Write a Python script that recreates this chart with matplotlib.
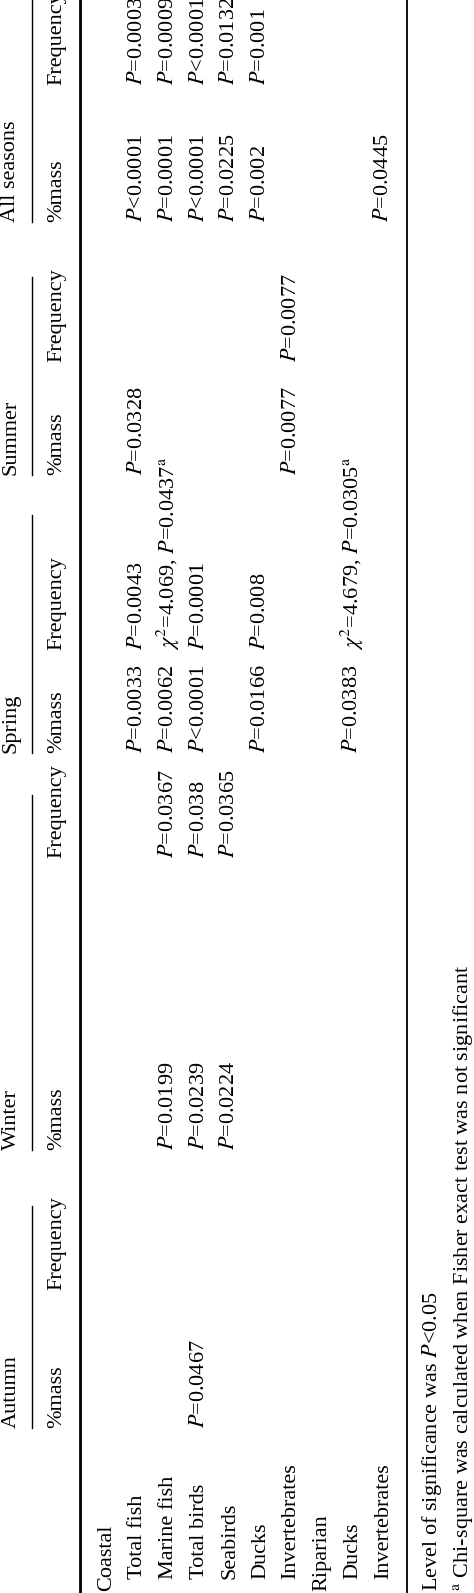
import matplotlib.pyplot as plt
from matplotlib.lines import Line2D

plt.rcParams['font.family'] = ['Liberation Serif', 'DejaVu Serif']
plt.rcParams['mathtext.fontset'] = 'stix'

# table content
seasons = ['Autumn', 'Winter', 'Spring', 'Summer', 'All seasons']
sub_headers = ['%mass', 'Frequency']
row_labels = ['Coastal', 'Total fish', 'Marine fish', 'Total birds', 'Seabirds',
              'Ducks', 'Invertebrates', 'Riparian', 'Ducks', 'Invertebrates']
row_indent = [0, 1, 1, 1, 1, 1, 1, 0, 1, 1]

CHI1 = r'$\chi^2$=4.069, $P$=0.0437$^{\rm a}$'
CHI2 = r'$\chi^2$=4.679, $P$=0.0305$^{\rm a}$'
# one list per row, 10 cells: (autumn mass, freq, winter mass, freq, ... all mass, freq)
cells = [
    [''] * 10,
    ['', '', '', '', '=0.0033', '=0.0043', '=0.0328', '', '<0.0001', '=0.0003'],
    ['', '', '=0.0199', '=0.0367', '=0.0062', CHI1, '', '', '=0.0001', '=0.0009'],
    ['=0.0467', '', '=0.0239', '=0.038', '<0.0001', '=0.0001', '', '', '<0.0001', '<0.0001'],
    ['', '', '=0.0224', '=0.0365', '', '', '', '', '=0.0225', '=0.0132'],
    ['', '', '', '', '=0.0166', '=0.008', '', '', '=0.002', '=0.001'],
    ['', '', '', '', '', '', '=0.0077', '=0.0077', '', ''],
    [''] * 10,
    ['', '', '', '', '=0.0383', CHI2, '', '', '', ''],
    ['', '', '', '', '', '', '', '', '=0.0445', ''],
]
footnotes = [r'Level of significance was $P$<0.05',
             r'$^{\rm a}$ Chi-square was calculated when Fisher exact test was not significant']

# layout in pixel coordinates (rotated page: text runs bottom to top)
W, H = 474, 1593
col_start = [1428, 1290, 1150, 858, 753, 650, 475, 362, 222, 85]
underline_end = [1206, 795, 515, 277, 0]
row_x0, row_dx = 107, 30.7
FS = 16

fig = plt.figure(figsize=(W / 100, H / 100), dpi=100)
ax = fig.add_axes([0, 0, 1, 1])
ax.set_xlim(0, W)
ax.set_ylim(H, 0)
ax.axis('off')


def put(x, y, s, **kw):
    ax.text(x, y, s, rotation=90, rotation_mode='anchor', ha='left', va='center',
            fontsize=FS, **kw)


for i, s in enumerate(seasons):
    put(11, col_start[2 * i], s)
    ax.add_line(Line2D([32, 32], [col_start[2 * i], underline_end[i]], color='black', lw=1))
for j in range(10):
    put(57, col_start[j], sub_headers[j % 2])

ax.add_line(Line2D([80, 80], [0, H], color='black', lw=2))
ax.add_line(Line2D([407, 407], [0, H], color='black', lw=1.3))

for r, label in enumerate(row_labels):
    x = row_x0 + r * row_dx
    put(x, 1591 - 12 * row_indent[r], label)
    for j, c in enumerate(cells[r]):
        if not c:
            continue
        txt = c if c.startswith(r'$\chi') else r'$P$' + c
        put(x, col_start[j], txt)

put(432, 1591, footnotes[0])
put(463, 1591, footnotes[1])

fig.savefig('out.png', dpi=100)
